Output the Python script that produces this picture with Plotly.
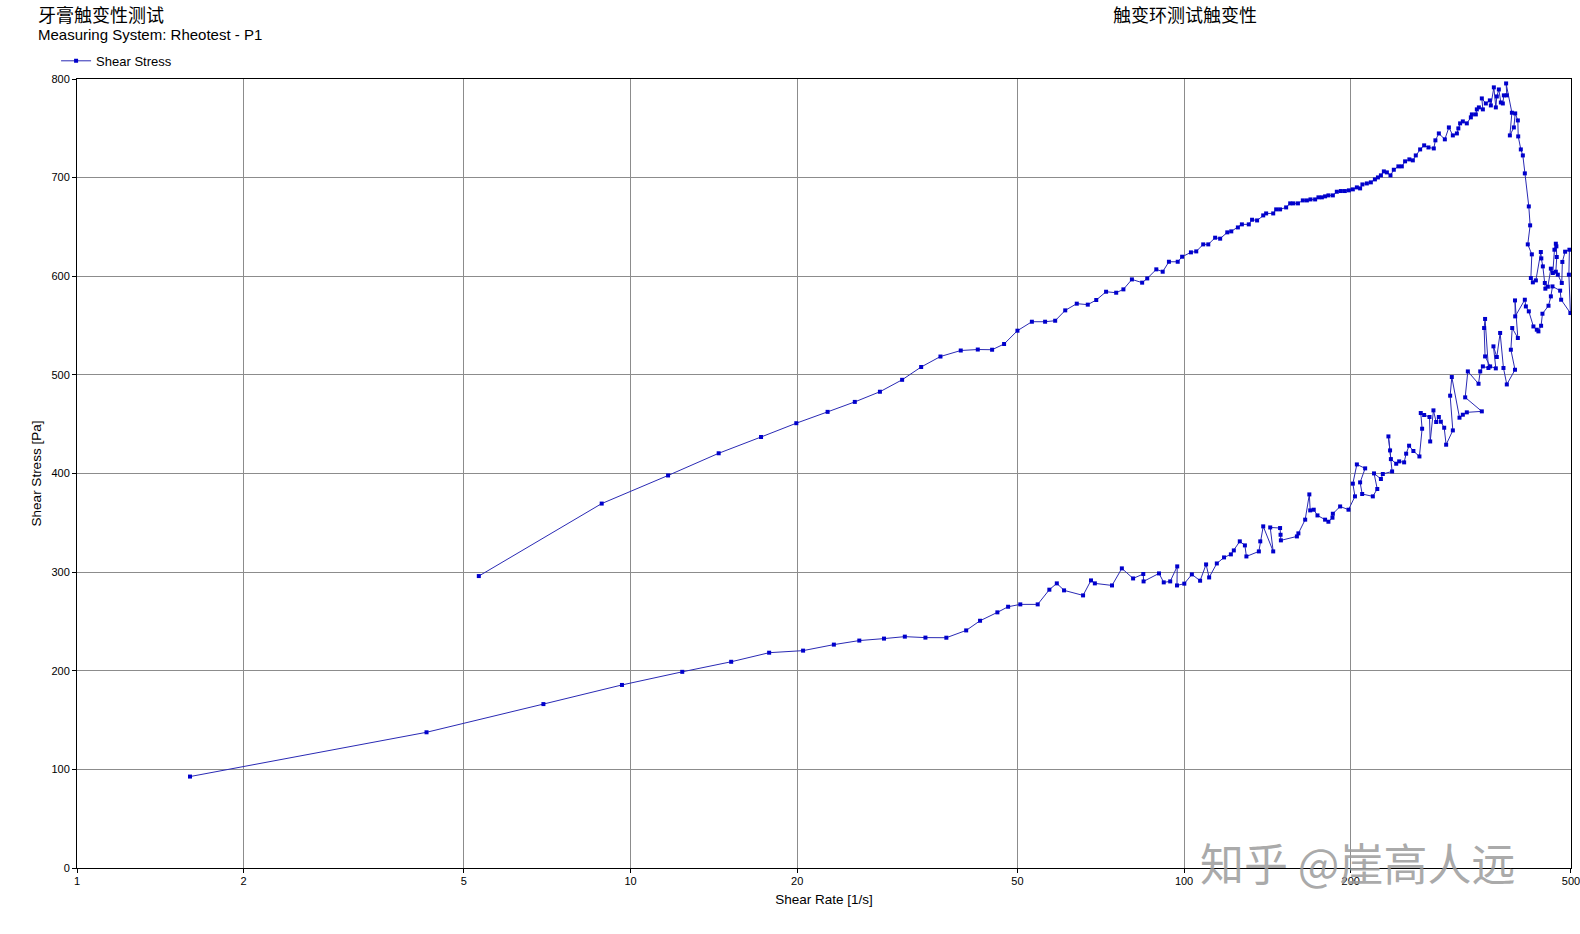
import plotly.graph_objects as go

# ---- data: thixotropic loop (shear rate [1/s], shear stress [Pa]) ----
rate_up = [
    5.32, 8.87, 11.69, 14.43, 17.21, 19.93, 22.70, 25.42, 28.22, 30.95,
    33.5, 36.3, 39.5, 42.4, 45.0, 47.3, 50.0, 53.1, 56.1, 58.5,
    61.0, 64.0, 67.0, 69.4, 72.3, 75.4, 77.7, 80.5, 84.0, 85.8,
    89.1, 91.5, 93.9, 97.4, 99.2, 102.9, 105.2, 108.3, 110.6, 113.8,
    116.2, 119.7, 121.7, 125.1, 127.2, 130.9, 132.7, 135.5, 139.0, 140.7,
    144.9, 146.7, 149.1, 152.9, 155.5, 157.6, 160.6, 163.9, 166.7, 169.2,
    172.5, 174.9, 177.4, 179.8, 182.3, 185.7, 188.8, 192.0, 195.2, 198.5,
    201.8, 205.2, 208.0, 210.0, 213.9, 217.5, 221.2, 224.0, 226.8, 229.6,
    232.5, 236.0, 239.3, 243.9, 247.4, 250.8, 255.3, 259.0, 262.2, 267.0,
    271.5, 276.4, 282.6, 284.5, 288.6, 295.9, 300.9, 305.9, 311.1, 313.0,
    315.3, 318.9, 324.2, 329.7, 331.1, 336.6, 338.0, 340.9, 346.6, 345.1,
    350.9, 356.8, 358.3, 362.8, 365.8, 367.3, 370.4, 373.5, 376.6, 378.2,
    382.9, 381.8, 391.1, 387.8, 394.3, 396.5, 400.9, 401.5, 405.9, 409.3,
    412.7, 419.6, 421.9, 417.8, 424.9, 423.2, 426.7, 432.1, 441.1, 442.0,
    444.8, 448.5, 449.5, 454.2, 459.9, 463.7, 466.8, 469.5, 470.6, 471.3,
    469.5, 473.4, 481.3, 482.4, 488.0, 496.8, 495.7,
]
stress_up = [
    296, 369.5, 398, 420.5, 437, 451, 462.5, 472.6, 482.9, 495,
    508, 518.6, 524.7, 525.7, 525.5, 531.3, 544.8, 553.9, 553.9, 554.9,
    565.4, 572.2, 571.2, 575.9, 584.3, 583.3, 586.7, 596.8, 593.5, 597.8,
    607.0, 604.6, 614.7, 614.7, 619.8, 624.2, 625.2, 632.3, 632.3, 639.1,
    638.1, 644.5, 645.5, 649.5, 652.6, 652.6, 657.3, 656.6, 661.7, 663.7,
    663.7, 667.8, 667.8, 669.8, 673.9, 673.9, 673.9, 676.9, 676.9, 677.9,
    677.9, 680.0, 680.0, 681.0, 682.0, 682.0, 685.7, 686.4, 686.4, 687.1,
    688.1, 690.1, 689.1, 693.1, 694.1, 695.2, 698.2, 700.2, 702.3, 706.3,
    705.3, 702.3, 708.0, 711.4, 711.4, 716.5, 718.5, 717.5, 722.5, 728.6,
    732.7, 730.6, 729.6, 737.8, 744.8, 738.8, 750.9, 742.8, 744.8, 749.9,
    755.0, 757.0, 755.0, 761.1, 764.1, 764.1, 769.2, 771.2, 769.2, 780.3,
    775.2, 778.3, 773.2, 791.5, 771.2, 782.3, 789.4, 776.2, 775.2, 783.4,
    783.4, 795.5, 765.8, 742.8, 750.9, 765.1, 758.0, 741.8, 728.6, 722.5,
    704.3, 670.8, 651.6, 632.3, 622.2, 598.2, 593.8, 595.8, 624.6, 618.1,
    610.0, 593.2, 587.4, 589.4, 607.7, 603.3, 626.9, 633.0, 630.3, 619.5,
    604.6, 601.6, 593.2, 614.5, 624.9, 626.9, 601.6,
]

rate_down = [
    498.8, 480.0, 478.0, 463.0, 459.9, 455.4, 444.1, 441.6, 436.7, 433.8,
    427.7, 419.6, 414.5, 412.7, 396.5, 396.2, 400.9, 391.6, 389.4, 396.2,
    382.9, 377.6, 372.4, 367.3, 362.2, 365.8, 357.2, 349.8, 348.4, 349.8,
    354.7, 346.6, 342.8, 340.4, 325.6, 322.0, 345.1, 324.2,
    318.9, 314.5, 304.6, 302.5, 305.9, 297.5, 295.1, 291.0, 288.6, 285.4,
    282.2, 278.4, 277.6, 271.5, 267.7, 269.2, 266.2, 259.6, 255.0, 251.9,
    249.8, 244.7, 241.7, 236.4, 234.0, 235.6, 237.6, 228.6, 226.8, 220.4,
    223.4, 219.3, 209.8, 208.0, 212.4, 205.2, 201.8, 203.6, 198.2, 191.4,
    185.7, 185.4, 182.3, 179.8, 174.2, 171.5, 169.0, 168.4, 165.5, 160.9,
    159.9, 149.6, 149.4, 149.1, 143.1, 144.9, 139.0, 137.3, 136.5, 129.6,
    128.8, 126.1, 123.0, 121.5, 118.1, 114.6, 111.0, 109.6, 106.9, 103.3,
    100.1, 97.1, 97.2, 94.4, 91.9, 90.1, 84.5, 84.4, 80.9, 77.2,
    74.1, 69.0, 67.9, 65.7, 60.7, 58.9, 57.1, 54.4, 50.6, 48.1,
    46.0, 42.8, 40.4, 37.2, 34.1, 31.3, 28.7, 25.9, 23.3, 20.5,
    17.8, 15.2, 12.4, 9.65, 6.96, 4.28, 1.60,
]
stress_down = [
    562.7, 576.2, 585.4, 589.7, 579.6, 570.1, 562.0, 549.8, 544.1, 545.8,
    549.1, 564.4, 569.4, 576.2, 559.3, 575.5, 537.4, 547.5, 525.5, 505.2,
    490.3, 507.0, 542.5, 518.1, 528.9, 506.6, 508.6, 518.7, 547.5, 556.7,
    507.0, 508.6, 503.5, 491.0, 503.5, 477.2, 463.0, 462.0,
    459.6, 456.6, 497.8, 478.9, 443.7, 429.2, 446.4, 452.5, 457.3, 452.2,
    464.0, 432.5, 457.3, 459.3, 461.3, 445.4, 417.3, 422.8, 428.2, 420.1,
    411.3, 412.3, 409.9, 414.6, 437.6, 423.4, 402.1, 399.5, 394.4, 400.1,
    384.3, 376.8, 379.2, 391.0, 405.2, 409.2, 389.7, 376.8, 363.3, 366.6,
    359.2, 355.2, 351.1, 353.2, 357.5, 363.3, 362.6, 378.8, 353.2, 339.3,
    336.2, 332.2, 337.9, 344.7, 345.3, 321.0, 346.4, 331.2, 321.0, 315.9,
    327.1, 331.2, 322.0, 318.0, 314.9, 308.8, 294.6, 307.8, 291.3, 297.7,
    288.3, 286.5, 305.8, 290.6, 289.6, 298.7, 290.6, 298.1, 293.6, 303.8,
    286.5, 288.6, 291.6, 276.4, 281.5, 288.6, 282.2, 267.3, 267.3, 264.9,
    259.2, 250.7, 240.9, 233.5, 233.6, 234.6, 232.6, 230.6, 226.5, 220.4,
    218.3, 209.1, 198.9, 185.6, 166.2, 137.6, 92.7,
]

x_ticks = [1, 2, 5, 10, 20, 50, 100, 200, 500]
y_ticks = [0, 100, 200, 300, 400, 500, 600, 700, 800]

FONT = "Liberation Sans, Arial, sans-serif"
CJK = "Noto Sans CJK SC, sans-serif"

fig = go.Figure()
fig.add_trace(go.Scatter(
    x=rate_up + rate_down,
    y=stress_up + stress_down,
    mode="lines+markers",
    name="Shear Stress",
    line=dict(color="#2a2ab4", width=1),
    marker=dict(symbol="square", size=4, color="#0000cc", line=dict(width=0)),
    cliponaxis=True,
))

axis_common = dict(
    showline=True, linecolor="black", linewidth=1, mirror=True,
    showgrid=True, gridcolor="#8c8c8c", gridwidth=1,
    ticks="outside", ticklen=4, tickcolor="black",
    tickfont=dict(family=FONT, size=11, color="black"),
    zeroline=False, automargin=False, ticklabeloverflow="allow",
)

fig.update_layout(
    width=1580, height=934,
    margin=dict(l=77, r=9, t=79, b=66, autoexpand=False),
    paper_bgcolor="white", plot_bgcolor="white",
    showlegend=True,
    legend=dict(x=-0.014, y=1.023, xanchor="left", yanchor="middle",
                font=dict(family=FONT, size=13, color="black"),
                bgcolor="rgba(0,0,0,0)", itemwidth=30),
    xaxis=dict(type="log", range=[0, 2.69905], tickvals=x_ticks,
               ticktext=[str(v) for v in x_ticks], ticklabelstandoff=-1,
               title=dict(text="Shear Rate [1/s]", standoff=8,
                          font=dict(family=FONT, size=13.5, color="black")),
               **axis_common),
    yaxis=dict(range=[0, 800], tickvals=y_ticks,
               title=dict(text="Shear Stress [Pa]", standoff=6,
                          font=dict(family=FONT, size=13.5, color="black")),
               **axis_common),
    annotations=[
        dict(text="牙膏触变性测试", xref="paper", yref="paper",
             x=-0.0274, y=1.0828, xanchor="left", yanchor="middle",
             showarrow=False, font=dict(family=CJK, size=18, color="black")),
        dict(text="Measuring System: Rheotest - P1", xref="paper", yref="paper",
             x=-0.0274, y=1.056, xanchor="left", yanchor="middle",
             showarrow=False, font=dict(family=FONT, size=15, color="black")),
        dict(text="触变环测试触变性", xref="paper", yref="paper",
             x=0.6921, y=1.0828, xanchor="left", yanchor="middle",
             showarrow=False, font=dict(family=CJK, size=18, color="black")),
        dict(text="知乎 @崖高人远", xref="paper", yref="paper",
             x=0.750, y=0.008, xanchor="left", yanchor="middle",
             showarrow=False,
             font=dict(family=CJK, size=44, color="rgba(155,155,155,0.85)")),
    ],
)

# remove the page's default body margin so the figure sits at the window origin
fig.write_html("out.html",
               config={"displayModeBar": False},
               post_script="document.body.style.margin='0px';")
